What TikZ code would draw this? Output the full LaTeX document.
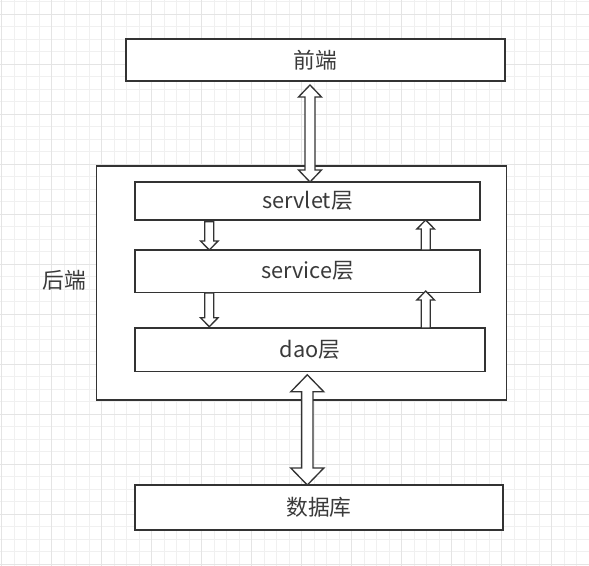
\documentclass[tikz,border=0pt]{standalone}
\usepackage{fontspec}
\setmainfont{Noto Sans CJK SC}
\usetikzlibrary{calc}
\definecolor{stroke}{RGB}{51,51,51}
\definecolor{txt}{RGB}{58,58,58}
\definecolor{gridminor}{RGB}{240,240,240}
\definecolor{gridmajor}{RGB}{228,228,228}
\tikzset{
  box/.style={draw=stroke, line width=1pt, fill=white, inner sep=0pt, outer sep=0pt,
    text=txt, font=\fontsize{16.3}{19}\selectfont},
  lbl/.style={text=txt, inner sep=0pt, font=\fontsize{16.3}{19}\selectfont},
  minorline/.style={draw=gridminor, line width=0.75pt},
  majorline/.style={draw=gridmajor, line width=0.75pt},
  hollow/.style={draw=stroke, line width=1pt, fill=white, line join=miter},
}
% single block arrow: start, tip, shaft half-width, head half-width, head length
\newcommand{\myblockarr}[5]{%
  \draw[hollow] let \p1=(#1), \p2=(#2), \n1={sign(\y2-\y1)} in
    (\x1-#3,\y1) -- (\x1-#3,\y2-\n1*#5) -- (\x1-#4,\y2-\n1*#5) -- (\x1,\y2)
    -- (\x1+#4,\y2-\n1*#5) -- (\x1+#3,\y2-\n1*#5) -- (\x1+#3,\y1) -- cycle;}
% double block arrow
\newcommand{\mydblarr}[5]{%
  \draw[hollow] let \p1=(#1), \p2=(#2), \n1={sign(\y2-\y1)} in
    (\x1-#3,\y1+\n1*#5) -- (\x1-#3,\y2-\n1*#5) -- (\x1-#4,\y2-\n1*#5) -- (\x1,\y2)
    -- (\x1+#4,\y2-\n1*#5) -- (\x1+#3,\y2-\n1*#5) -- (\x1+#3,\y1+\n1*#5)
    -- (\x1+#4,\y1+\n1*#5) -- (\x1,\y1) -- (\x1-#4,\y1+\n1*#5) -- cycle;}
\begin{document}
\begin{tikzpicture}[x=0.75pt, y=-0.75pt]
\useasboundingbox (0,0) rectangle (589,566);
\fill[white] (0,0) rectangle (589,566);
\begin{scope}
\clip (0,0) rectangle (589,566);
\foreach \k in {0,...,47} \draw[minorline] ({1.7+12.5*\k},0) -- ++(0,566);
\foreach \k in {0,...,45} \draw[minorline] (0,{1.7+12.5*\k}) -- ++(589,0);
\foreach \k in {0,4,...,44} \draw[majorline] ({1.7+12.5*\k},0) -- ++(0,566);
\foreach \k in {1,5,...,45} \draw[majorline] (0,{1.7+12.5*\k}) -- ++(589,0);
\end{scope}

\node[box, minimum width=284.25pt, minimum height=31.5pt] (fe) at (315.5,60) {前端};
\node[box, minimum width=307.5pt, minimum height=175.5pt] (be) at (301.5,283) {};
\node[lbl] (belbl) at (64,280) {后端};
\node[box, minimum width=258.75pt, minimum height=28.5pt] (sv) at (307.5,201) {servlet层};
\node[box, minimum width=258.75pt, minimum height=31.875pt] (svc) at (307.5,271.25) {service层};
\node[box, minimum width=262.5pt, minimum height=32.625pt] (dao) at (310,349.75) {dao层};
\node[box, minimum width=276pt, minimum height=33.75pt] (db) at (319,507.5) {数据库};

\coordinate (feA) at ($(fe.south)+(-5.5,4)$);
\mydblarr{feA}{sv.north}{3.75pt}{8.625pt}{9pt}

\coordinate (d1) at ($(sv.south west)+(74.3,1.7)$);
\myblockarr{d1}{svc.north}{3.375pt}{6.6pt}{6.75pt}
\coordinate (d2) at ($(svc.south west)+(74.3,0.5)$);
\coordinate (d2t) at ($(dao.north)+(0,-1.3)$);
\myblockarr{d2}{d2t}{3.375pt}{6.6pt}{6.75pt}

\coordinate (u1) at ($(svc.north west)+(290.7,0)$);
\myblockarr{u1}{sv.south}{3.375pt}{6.6pt}{6.75pt}
\coordinate (u2) at ($(dao.north west)+(290.7,0)$);
\coordinate (u2t) at ($(svc.south)+(0,-1.5)$);
\myblockarr{u2}{u2t}{3.375pt}{6.6pt}{6.75pt}

\coordinate (dbA) at ($(dao.south)+(-2.7,3.3)$);
\mydblarr{dbA}{db.north}{4.25pt}{12.4pt}{12.75pt}
\end{tikzpicture}
\end{document}
